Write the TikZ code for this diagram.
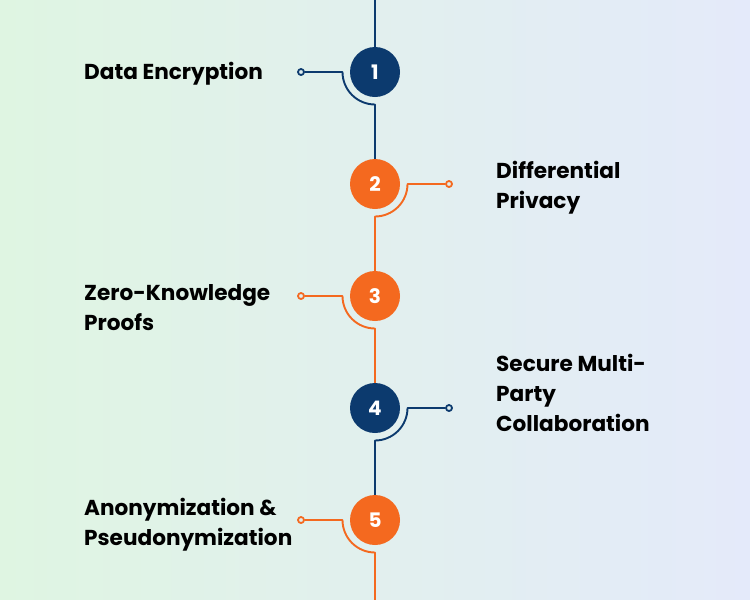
\documentclass[tikz,border=0pt]{standalone}
\usepackage{fontspec}
\setmainfont{Poppins}
\definecolor{navy}{HTML}{0C3A6E}
\definecolor{tangerine}{HTML}{F4691F}
\definecolor{bgleft}{HTML}{DFF5E2}
\definecolor{bgright}{HTML}{E4EAFA}
\definecolor{bgmid}{HTML}{E1EFF0}
\tikzset{
	stepdot/.style={circle, minimum size=50pt, inner sep=0pt, text=white, font=\fontsize{20}{20}\selectfont\bfseries},
	tipdot/.style={circle, minimum size=6pt, inner sep=0pt, line width=1.8pt, fill=bgmid},
	label/.style={anchor=west, align=left, text=black, inner sep=0pt, font=\fontsize{21.6}{30}\selectfont\bfseries},
	link/.style={line width=1.9pt}
}
\begin{document}
\begin{tikzpicture}[x=1pt, y=1pt, line join=round]
		% background
		\shade[left color=bgleft, right color=bgright] (0,0) rectangle (750,-600);
		\useasboundingbox (0,0) rectangle (750,-600);
		\def\rr{32.5pt}
		% steps
		\foreach \n/\y/\c in {1/72/navy, 2/184/tangerine, 3/296/tangerine, 4/408/navy, 5/520/tangerine}
		\node[stepdot, fill=\c] (s\n) at (375,-\y) {\n};
		\coordinate (top) at (375,0);
		\coordinate (bottom) at (375,-600);
		% end dots
		\node[tipdot, draw=navy] (e1) at (301,-72) {};
		\node[tipdot, draw=tangerine] (e2) at (449,-184) {};
		\node[tipdot, draw=tangerine] (e3) at (301,-296) {};
		\node[tipdot, draw=navy] (e4) at (449,-408) {};
		\node[tipdot, draw=tangerine] (e5) at (301,-520) {};
		% connectors
		\draw[link, navy] (top) -- (s1.north);
		\draw[link, navy] (e1) -- ([xshift=-\rr]s1.center) arc[start angle=180, end angle=270, radius=\rr] -- (s2.north);
		\draw[link, tangerine] (e2) -- ([xshift=\rr]s2.center) arc[start angle=0, end angle=-90, radius=\rr] -- (s3.north);
		\draw[link, tangerine] (e3) -- ([xshift=-\rr]s3.center) arc[start angle=180, end angle=270, radius=\rr] -- (s4.north);
		\draw[link, navy] (e4) -- ([xshift=\rr]s4.center) arc[start angle=0, end angle=-90, radius=\rr] -- (s5.north);
		\draw[link, tangerine] (e5) -- ([xshift=-\rr]s5.center) arc[start angle=180, end angle=270, radius=\rr] -- (bottom);
		% labels
		\node[label] (t1) at (84,-74) {Data Encryption};
		\node[label] (t2) at (496,-188) {Differential\\Privacy};
		\node[label] (t3) at (84,-308) {Zero-Knowledge\\Proofs};
		\node[label] (t4) at (496,-393) {Secure Multi-\\Party\\Collaboration};
		\node[label] (t5) at (84,-525) {Anonymization \&\\Pseudonymization};
\end{tikzpicture}
\end{document}
